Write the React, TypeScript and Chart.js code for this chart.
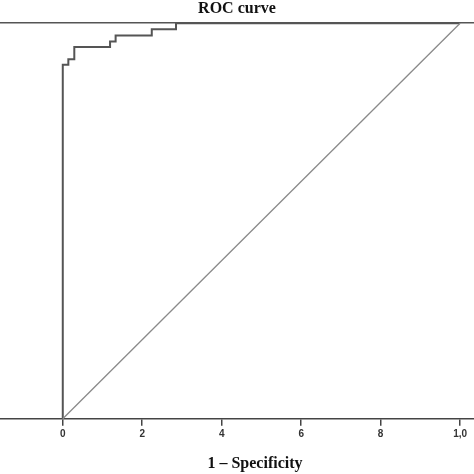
import React, { useEffect, useRef } from "react";
import { Chart, registerables } from "chart.js";

Chart.register(...registerables);

const chartTitle = "ROC curve";
const xAxisTitle = "1 – Specificity";
const xTickValues = [0, 0.2, 0.4, 0.6, 0.8, 1.0];
const xTickLabels = ["0", "2", "4", "6", "8", "1,0"];

// ROC curve corner points (1 - specificity, sensitivity)
const rocX = [0, 0, 0.014, 0.029, 0.119, 0.133, 0.224, 0.285, 1.0];
const rocY = [0, 0.895, 0.909, 0.94, 0.954, 0.969, 0.985, 1.0, 1.0];

// Reference diagonal
const diagX = [0, 1];
const diagY = [0, 1];

export default function App() {
  const ref = useRef<HTMLCanvasElement | null>(null);

  useEffect(() => {
    if (!ref.current) return;
    const chart = new Chart(ref.current, {
      type: "scatter",
      data: {
        datasets: [
          {
            label: "Diagonal",
            data: diagX.map((x, i) => ({ x, y: diagY[i] })),
            showLine: true,
            borderColor: "#8a8a8a",
            borderWidth: 1.3,
            pointRadius: 0,
            clip: false as any,
          },
          {
            label: "ROC",
            data: rocX.map((x, i) => ({ x, y: rocY[i] })),
            showLine: true,
            stepped: "before",
            borderColor: "#555555",
            borderWidth: 2,
            pointRadius: 0,
            clip: false as any,
          },
        ],
      },
      options: {
        responsive: false,
        animation: false,
        layout: { padding: { top: -0.5, left: 0, right: 0, bottom: 0 } },
        plugins: {
          legend: { display: false },
          tooltip: { enabled: false },
          title: {
            display: true,
            text: chartTitle,
            color: "#111",
            font: { family: "Liberation Serif", size: 16, weight: "bold" },
            padding: { top: 0, bottom: 4.5 },
          },
        },
        scales: {
          x: {
            type: "linear",
            min: -0.158,
            max: 1.035,
            afterBuildTicks: (scale: any) => {
              scale.ticks = xTickValues.map((v) => ({ value: v }));
            },
            ticks: {
              color: "#333",
              font: { family: "Liberation Sans", size: 10, weight: "bold" },
              padding: 2,
              maxRotation: 0,
              callback: (value: any) => {
                const idx = xTickValues.findIndex((v) => Math.abs(v - Number(value)) < 1e-6);
                return idx >= 0 ? xTickLabels[idx] : "";
              },
            },
            grid: {
              drawOnChartArea: false,
              drawTicks: true,
              tickLength: 7,
              color: "#444",
              lineWidth: 1.5,
            },
            border: { display: true, color: "#444", width: 1.5 },
            title: {
              display: true,
              text: "\u00A0".repeat(9) + xAxisTitle,
              color: "#111",
              font: { family: "Liberation Serif", size: 16, weight: "bold" },
              padding: { top: 12, bottom: 1 },
            },
          },
          y: {
            type: "linear",
            min: 0,
            max: 1,
            display: true,
            ticks: { display: false, stepSize: 0.1 },
            border: { display: false },
            grid: {
              drawTicks: false,
              lineWidth: 1.5,
              color: (ctx: any) =>
                ctx.tick && Math.abs(ctx.tick.value - 1) < 1e-6 ? "#555" : "rgba(0,0,0,0)",
            },
          },
        },
      },
    });
    return () => chart.destroy();
  }, []);

  return (
    <div style={{ position: "fixed", left: 0, top: 0, width: 474, height: 474, background: "#fff" }}>
      <canvas ref={ref} width={474} height={474} style={{ display: "block" }} />
    </div>
  );
}
